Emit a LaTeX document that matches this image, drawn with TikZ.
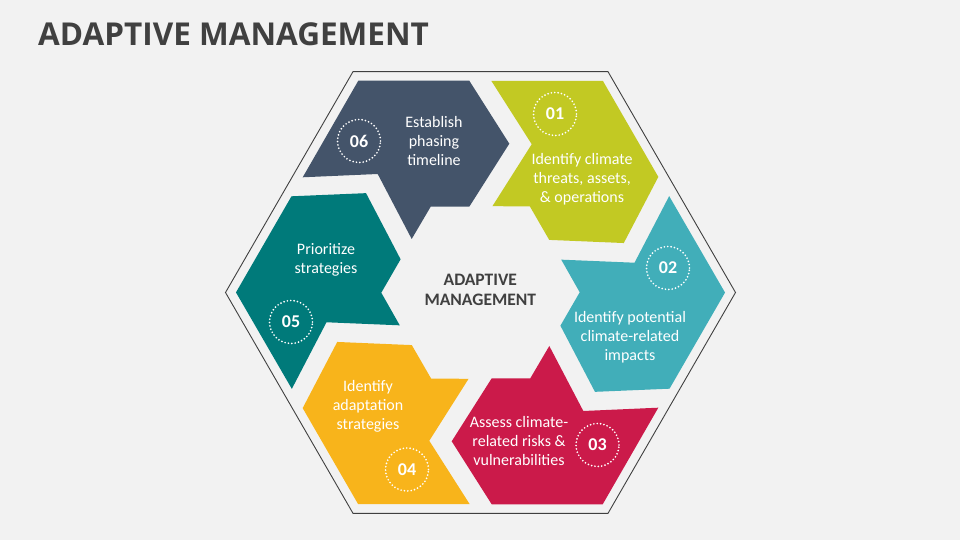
\documentclass[tikz,border=0pt]{standalone}
\usepackage{fontspec}
\setmainfont{Carlito}
\newfontfamily\titlefont{Open Sans}
\usepackage{xcolor}
\usetikzlibrary{positioning}

\definecolor{bgGray}{HTML}{F2F2F2}
\definecolor{slateCol}{HTML}{44546A}
\definecolor{limeCol}{HTML}{C2C923}
\definecolor{aquaCol}{HTML}{41AEB9}
\definecolor{redCol}{HTML}{CB1A4A}
\definecolor{amberCol}{HTML}{F8B41B}
\definecolor{tealCol}{HTML}{007A7A}
\definecolor{darkText}{HTML}{404040}

\tikzset{
  steptext/.style={text=white, align=center, inner sep=0pt, font=\fontsize{16}{19}\selectfont},
  numring/.style={circle, draw=white, line width=1.9pt, dash pattern=on 0pt off 3.4pt,
    line cap=round, minimum size=43pt, inner sep=0pt, text=white,
    font=\bfseries\fontsize{18}{20}\selectfont},
}

\begin{document}
\begin{tikzpicture}[x=1pt,y=1pt]
    % Background and frame of the slide
    \fill[bgGray] (0,0) rectangle (960,540);
    \useasboundingbox (0,0) rectangle (960,540);

    % Title
    \node[anchor=base west, inner sep=0pt, text=darkText,
      font=\titlefont\bfseries\fontsize{31.5}{36}\selectfont] (title) at (38,494) {ADAPTIVE MANAGEMENT};

    % Outer hexagon outline
    \draw[darkText, line width=0.9pt] (480.5,247.5) +(0:255) -- +(60:255) -- +(120:255)
      -- +(180:255) -- +(240:255) -- +(300:255) -- cycle;

    % Six arrow pieces, each one the previous turned by 60 degrees
    \foreach \ang/\col in {0/slateCol, -60/limeCol, -120/aquaCol, -180/redCol, -240/amberCol, -300/tealCol} {
        \fill[\col, shift={(480.5,247.5)}, rotate=\ang]
          (-122.2,211.8) -- (-11.2,211.8) -- (28.8,148.8) -- (-11.2,85.8) -- (-49.8,85.8)
          -- (-68.8,53.5) -- (-102.8,118.5) -- (-177.8,115.2) -- cycle;
    }

    % Centre label
    \node[align=center, text=darkText, inner sep=0pt,
      font=\bfseries\fontsize{17.5}{20.5}\selectfont] (centre) at (480.3,250) {ADAPTIVE\\MANAGEMENT};

    % Numbers
    \node[numring] (n1) at (555,426) {01};
    \node[numring] (n2) at (668,272) {02};
    \node[numring] (n3) at (597.5,95) {03};
    \node[numring] (n4) at (407,70.5) {04};
    \node[numring] (n5) at (291,218) {05};
    \node[numring] (n6) at (359,399) {06};

    % Step texts
    \node[steptext] (t1) at (582,361) {Identify climate\\threats, assets,\\\& operations};
    \node[steptext] (t2) at (630,203) {Identify potential\\climate-related\\impacts};
    \node[steptext] (t3) at (519,99) {Assess climate-\\related risks \&\\vulnerabilities};
    \node[steptext] (t4) at (368,134) {Identify\\adaptation\\strategies};
    \node[steptext] (t5) at (326,280.5) {Prioritize\\strategies};
    \node[steptext] (t6) at (434,399) {Establish\\phasing\\timeline};

\end{tikzpicture}
\end{document}
